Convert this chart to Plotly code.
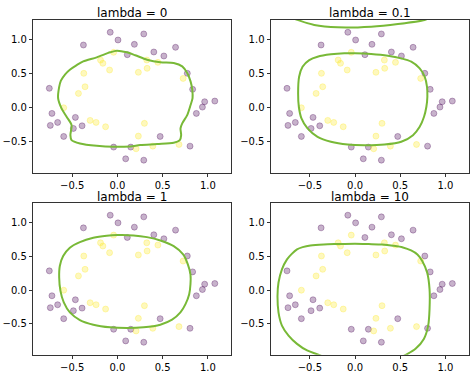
import plotly.graph_objects as go

# ---- data points ----
neg_x = [-0.08, 0.291, 0.006, -0.376, 0.187, 0.642, 0.402, 0.513, 0.109, 0.772, 0.831, -0.753, 1.076, 0.964,
         0.939, -0.724, 0.872, -0.465, -0.661, -0.742, -0.391, -0.487, -0.594, 0.472, -0.042, 0.147, 0.802,
         0.091, 0.291]
neg_y = [1.114, 1.089, 1.0, 0.926, 0.936, 0.892, 0.823, 0.764, 0.783, 0.508, 0.272, 0.287, 0.099, 0.089,
         0.01, -0.083, -0.083, -0.142, -0.216, -0.26, -0.266, -0.305, -0.423, -0.423, -0.58, -0.58, -0.566,
         -0.753, -0.773]
pos_x = [-0.042, -0.187, -0.161, -0.087, -0.372, -0.358, -0.431, -0.594, -0.302, -0.236, -0.131, 0.298,
         0.231, 0.206, 0.391, 0.68, 0.726, 0.231, 0.328, 0.324, 0.447]
pos_y = [0.818, 0.704, 0.656, 0.557, 0.508, 0.31, 0.212, 0.0, -0.186, -0.216, -0.28, -0.23,
         -0.418, -0.605, -0.566, -0.541, 0.433, 0.523, 0.582, 0.704, 0.67]

titles = ["lambda = 0", "lambda = 0.1", "lambda = 1", "lambda = 10"]

# ---- decision boundaries ----
b0_x = [-0.656, -0.645, -0.625, -0.58, -0.526, -0.45, -0.378, -0.229, -0.081, -0.007, 0.104, 0.197, 0.327,
        0.474, 0.622, 0.716, 0.771, 0.808, 0.827, 0.83, 0.808, 0.771, 0.716, 0.697, 0.704, 0.689, 0.622,
        0.438, 0.252, 0.141, -0.044, -0.229, -0.414, -0.507, -0.52, -0.507, -0.562, -0.618, -0.656]
b0_y = [0.143, 0.30, 0.40, 0.49, 0.561, 0.63, 0.685, 0.744, 0.818, 0.842, 0.818, 0.775, 0.709,
        0.67, 0.66, 0.611, 0.513, 0.39, 0.266, 0.143, 0.04, -0.108, -0.231, -0.304, -0.403, -0.477, -0.517,
        -0.536, -0.551, -0.57, -0.576, -0.561, -0.526, -0.477, -0.403, -0.256, -0.133, -0.009, 0.143]

b1_x = [-0.63, -0.619, -0.581, -0.507, -0.415, -0.267, -0.119, 0.0, 0.178, 0.363, 0.511, 0.622, 0.715, 0.77,
        0.796, 0.8, 0.789, 0.763, 0.715, 0.641, 0.511, 0.326, 0.104, -0.081, -0.267, -0.415, -0.526, -0.593,
        -0.622, -0.63]
b1_y = [0.212, 0.458, 0.606, 0.704, 0.754, 0.788, 0.803, 0.803, 0.793, 0.768, 0.729, 0.68, 0.581, 0.458,
        0.31, 0.163, 0.015, -0.133, -0.281, -0.404, -0.502, -0.542, -0.552, -0.542, -0.502, -0.429, -0.305,
        -0.158, 0.015, 0.212]
b1t_x = [-0.70, -0.637, -0.452, -0.193, 0.178, 0.474, 0.77, 0.83]
b1t_y = [1.33, 1.296, 1.222, 1.187, 1.197, 1.236, 1.296, 1.33]

b2_x = [-0.644, -0.637, -0.6, -0.526, -0.415, -0.267, -0.119, 0.0, 0.178, 0.326, 0.474, 0.622, 0.726, 0.778,
        0.807, 0.807, 0.793, 0.752, 0.696, 0.604, 0.474, 0.289, 0.104, -0.081, -0.267, -0.415, -0.526, -0.593,
        -0.63, -0.644]
b2_y = [0.187, 0.36, 0.507, 0.631, 0.714, 0.778, 0.808, 0.818, 0.813, 0.788, 0.739, 0.655, 0.532, 0.384,
        0.236, 0.089, -0.059, -0.207, -0.33, -0.438, -0.512, -0.552, -0.562, -0.552, -0.512, -0.443, -0.33,
        -0.182, -0.01, 0.187]

b3_x = [-0.33, -0.42, -0.531, -0.642, -0.736, -0.809, -0.847, -0.858, -0.847, -0.809, -0.753, -0.70, -0.642,
        -0.58, -0.494, -0.347, -0.198, 0.0, 0.15, 0.3, 0.42, 0.53, 0.62, 0.69, 0.743, 0.798, 0.824, 0.824,
        0.809, 0.761, 0.669, 0.576, 0.5]
b3_y = [-1.0, -0.95, -0.895, -0.797, -0.674, -0.526, -0.33, -0.083, 0.114, 0.31, 0.458, 0.54, 0.606,
        0.64, 0.665, 0.68, 0.685, 0.69, 0.685, 0.678, 0.66, 0.635, 0.59, 0.53, 0.434, 0.261, 0.015, -0.281,
        -0.526, -0.724, -0.871, -0.95, -1.0]

boundaries = [[(b0_x, b0_y)], [(b1_x, b1_y), (b1t_x, b1t_y)], [(b2_x, b2_y)], [(b3_x, b3_y)]]

X_RANGE = [-0.93, 1.255]
Y_RANGE = [-0.958, 1.295]
XTICKS = [-0.5, 0.0, 0.5, 1.0]
YTICKS = [-0.5, 0.0, 0.5, 1.0]

W, H = 474, 377
xdoms = [[33.3 / W, 231 / W], [271 / W, 468.5 / W]]
ydoms = [[1 - 172.7 / H, 1 - 20 / H], [1 - 354.7 / H, 1 - 203 / H]]

PURPLE = "rgba(68,1,84,0.3)"
YELLOW = "rgba(253,231,37,0.3)"
GREEN = "rgb(120,185,55)"
FONT = "DejaVu Sans"

fig = go.Figure()
layout = dict(width=W, height=H, margin=dict(l=0, r=0, t=0, b=0),
              paper_bgcolor="white", plot_bgcolor="white", showlegend=False,
              font=dict(family=FONT, size=10, color="black"), annotations=[])

for i in range(4):
    r, c = divmod(i, 2)
    sfx = "" if i == 0 else str(i + 1)
    xa, ya = "x" + sfx, "y" + sfx
    fig.add_trace(go.Scatter(x=neg_x, y=neg_y, mode="markers", xaxis=xa, yaxis=ya,
                             marker=dict(size=6, color=PURPLE, line=dict(color=PURPLE, width=1))))
    fig.add_trace(go.Scatter(x=pos_x, y=pos_y, mode="markers", xaxis=xa, yaxis=ya,
                             marker=dict(size=6, color=YELLOW, line=dict(color=YELLOW, width=1))))
    for bx, by in boundaries[i]:
        fig.add_trace(go.Scatter(x=bx, y=by, mode="lines", xaxis=xa, yaxis=ya,
                                 line=dict(color=GREEN, width=2, shape="spline", smoothing=0.8),
                                 hoverinfo="skip"))
    axstyle = dict(showline=True, mirror=True, linecolor="#333", linewidth=1, ticks="outside",
                   ticklen=3.5, tickwidth=1, tickcolor="#333", showgrid=False, zeroline=False,
                   tickfont=dict(family=FONT, size=10, color="black"))
    layout["xaxis" + sfx] = dict(domain=xdoms[c], range=X_RANGE, tickvals=XTICKS,
                                 ticktext=["\u22120.5", "0.0", "0.5", "1.0"],
                                 anchor=ya, **axstyle)
    layout["yaxis" + sfx] = dict(domain=ydoms[r], range=Y_RANGE, tickvals=YTICKS,
                                 ticktext=["\u22120.5", "0.0", "0.5", "1.0"],
                                 anchor=xa, **axstyle)
    layout["annotations"].append(dict(text=titles[i], xref="paper", yref="paper",
                                      x=(xdoms[c][0] + xdoms[c][1]) / 2, y=ydoms[r][1],
                                      xanchor="center", yanchor="bottom", showarrow=False,
                                      borderpad=0, yshift=-1 if r == 0 else -2,
                                      font=dict(family=FONT, size=12, color="black")))

fig.update_layout(**layout)
fig.write_html("out.html", config={"displayModeBar": False},
               post_script="document.body.style.margin='0';")
